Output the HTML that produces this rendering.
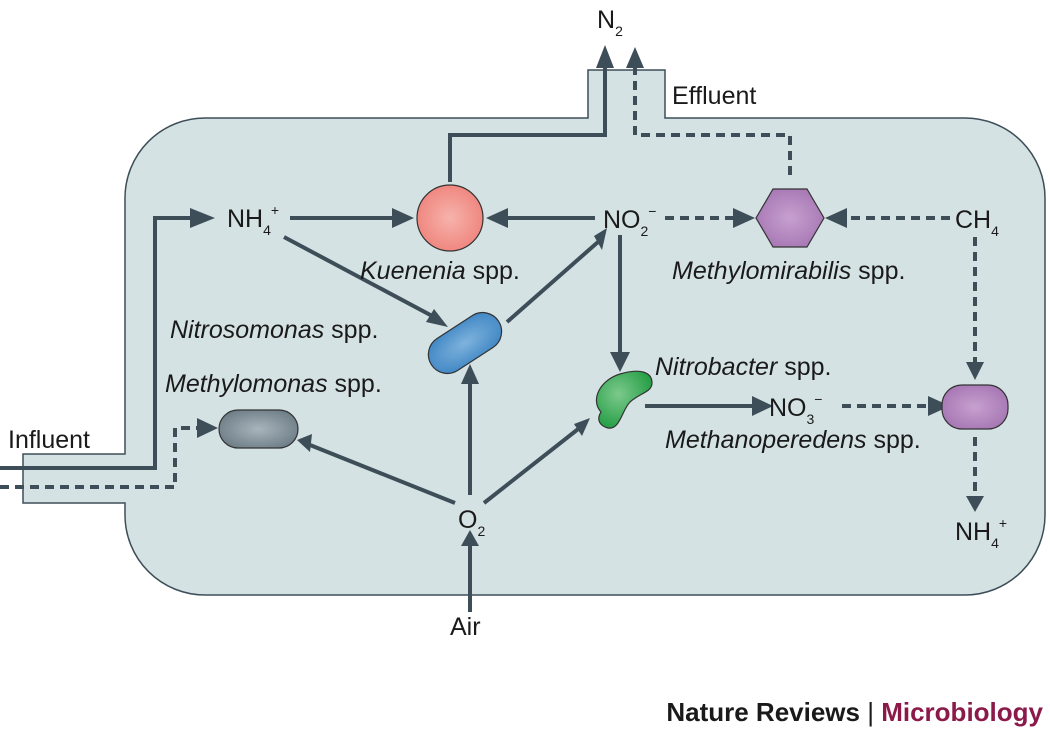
<!DOCTYPE html>
<html><head><meta charset="utf-8"><style>
html,body{margin:0;padding:0;background:#fff;}
svg{display:block;}
text{font-family:"Liberation Sans",sans-serif;fill:#1a1a1a;}
</style></head><body>
<svg width="1050" height="731" viewBox="0 0 1050 731" xmlns="http://www.w3.org/2000/svg">
<defs>
<radialGradient id="gr" cx="0.5" cy="0.5" r="0.6"><stop offset="0" stop-color="#f6b3ab"/><stop offset="1" stop-color="#ee7f78"/></radialGradient>
<radialGradient id="gb" cx="0.5" cy="0.5" r="0.6"><stop offset="0" stop-color="#7fb3dd"/><stop offset="1" stop-color="#3f86c4"/></radialGradient>
<radialGradient id="gg" cx="0.4" cy="0.4" r="0.6"><stop offset="0" stop-color="#7cc98c"/><stop offset="1" stop-color="#28a048"/></radialGradient>
<radialGradient id="gp" cx="0.5" cy="0.5" r="0.6"><stop offset="0" stop-color="#c7a0cf"/><stop offset="1" stop-color="#a474b2"/></radialGradient>
<radialGradient id="gs" cx="0.5" cy="0.5" r="0.6"><stop offset="0" stop-color="#a9b5bc"/><stop offset="1" stop-color="#6a7a84"/></radialGradient>
</defs>
<path d="M205,118 H588 V70 H665 V118 H965 A80,80 0 0 1 1045,198 V515 A80,80 0 0 1 965,595 H205 A80,80 0 0 1 125,515 V503 H23 V454 H125 V198 A80,80 0 0 1 205,118 Z" fill="#d5e2e4" stroke="#3d4e58" stroke-width="1.5"/>
<g stroke="#3d4e58" stroke-width="4" fill="none">
<polyline points="0,468 155,468 155,218 200,218"/>
<polyline points="0,487 175,487 175,428 205,428" stroke-dasharray="9,6"/>
<polyline points="450,182 450,135 605,135 605,60"/>
<polyline points="790,175 790,135 635,135 635,62" stroke-dasharray="9,6"/>
<line x1="290" y1="218" x2="402" y2="218"/>
<line x1="595" y1="218" x2="498" y2="218"/>
<line x1="665" y1="218" x2="740" y2="218" stroke-dasharray="9,6"/>
<line x1="950" y1="218" x2="840" y2="218" stroke-dasharray="9,6"/>
<line x1="284" y1="237" x2="436" y2="318"/>
<line x1="507" y1="322" x2="598" y2="242"/>
<line x1="620" y1="235" x2="620" y2="358"/>
<line x1="645" y1="406" x2="760" y2="406"/>
<line x1="842" y1="406" x2="935" y2="406" stroke-dasharray="9,6"/>
<line x1="975" y1="237" x2="975" y2="368" stroke-dasharray="9,6"/>
<line x1="975" y1="437" x2="975" y2="505" stroke-dasharray="9,6"/>
<line x1="455" y1="503" x2="305" y2="443"/>
<line x1="470" y1="495" x2="470" y2="378"/>
<line x1="484" y1="503" x2="582" y2="426"/>
<line x1="470" y1="612" x2="470" y2="540"/>
</g>
<g fill="#3d4e58">
<polygon points="190,208 215,218 190,228"/>
<polygon points="197,418 218,428 197,438"/>
<polygon points="596,68 605,45 614,68"/>
<polygon points="626,68 635,47 644,68"/>
<polygon points="392,208 414,218 392,228"/>
<polygon points="508,208 486,218 508,228"/>
<polygon points="733,208 755,218 733,228"/>
<polygon points="847,208 825,218 847,228"/>
<polygon points="426,322 448,327 434,309"/>
<polygon points="594,236 607,228 602,250"/>
<polygon points="610,352 620,372 630,352"/>
<polygon points="752,396 773,406 752,416"/>
<polygon points="928,396 950,406 928,416"/>
<polygon points="966,362 975,380 984,362"/>
<polygon points="966,496 975,512 984,496"/>
<polygon points="312,434 297,440 310,452"/>
<polygon points="461,384 470,364 479,384"/>
<polygon points="574,424 590,418 582,436"/>
<polygon points="461,546 470,530 479,546"/>
</g>
<circle cx="450" cy="218" r="33" fill="url(#gr)" stroke="#333" stroke-width="1.2"/>
<polygon points="756,218 773,189 807,189 824,218 807,247 773,247" fill="url(#gp)" stroke="#333" stroke-width="1.2"/>
<rect x="425" y="324" width="80" height="38" rx="19" transform="rotate(-33 465 343)" fill="url(#gb)" stroke="#333" stroke-width="1.2"/>
<rect x="219" y="410" width="79" height="38" rx="19" fill="url(#gs)" stroke="#333" stroke-width="1.2"/>
<rect x="942" y="385" width="66" height="44" rx="20" fill="url(#gp)" stroke="#333" stroke-width="1.2"/>
<path d="M601,412 C590,400 600,380 620,374 C640,368 652,372 652,383 C652,392 640,393 630,402 C622,410 620,430 608,428 C600,426 596,420 601,412 Z" fill="url(#gg)" stroke="#333" stroke-width="1.2"/>
<g font-size="25">
<text x="597" y="28">N<tspan font-size="14" dy="8">2</tspan></text>
<text x="672" y="104">Effluent</text>
<text x="227" y="227">NH<tspan font-size="14" dy="8">4</tspan><tspan font-size="14" dy="-20">+</tspan></text>
<text x="603" y="228">NO<tspan font-size="14" dy="8">2</tspan><tspan font-size="14" dy="-20">−</tspan></text>
<text x="955" y="228">CH<tspan font-size="14" dy="8">4</tspan></text>
<text x="769" y="416">NO<tspan font-size="14" dy="8">3</tspan><tspan font-size="14" dy="-20">−</tspan></text>
<text x="955" y="540">NH<tspan font-size="14" dy="8">4</tspan><tspan font-size="14" dy="-20">+</tspan></text>
<text x="458" y="528">O<tspan font-size="14" dy="8">2</tspan></text>
<text x="450" y="635">Air</text>
<text x="8" y="448">Influent</text>
<text x="360" y="279"><tspan font-style="italic">Kuenenia</tspan> spp.</text>
<text x="672" y="279"><tspan font-style="italic">Methylomirabilis</tspan> spp.</text>
<text x="170" y="338"><tspan font-style="italic">Nitrosomonas</tspan> spp.</text>
<text x="165" y="392"><tspan font-style="italic">Methylomonas</tspan> spp.</text>
<text x="655" y="375"><tspan font-style="italic">Nitrobacter</tspan> spp.</text>
<text x="665" y="448"><tspan font-style="italic">Methanoperedens</tspan> spp.</text>
</g>
<text x="1043" y="721" text-anchor="end" font-size="26" font-weight="bold">Nature Reviews <tspan font-weight="normal">|</tspan> <tspan style="fill:#8b1a4a">Microbiology</tspan></text>
</svg>
</body></html>
